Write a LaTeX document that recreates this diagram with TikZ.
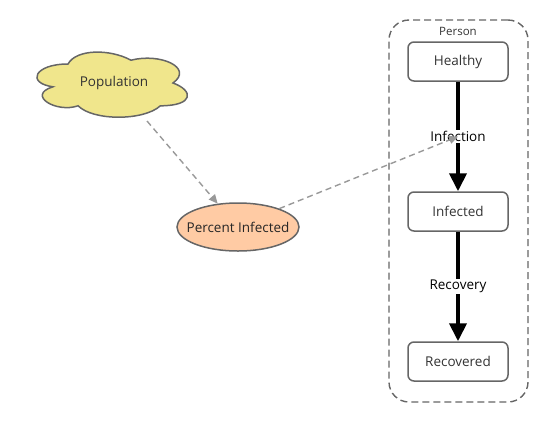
\documentclass[tikz,border=0pt]{standalone}
\usepackage{fontspec}
\setmainfont{Open Sans}
\usetikzlibrary{shapes.geometric,arrows.meta}
\definecolor{strokegray}{HTML}{666666}
\definecolor{khaki}{HTML}{F0E68C}
\definecolor{peach}{HTML}{FFCBA4}
\definecolor{dashgray}{HTML}{999999}
\tikzset{
  txt/.style={font=\fontsize{13.5}{15}\selectfont},
  statebox/.style={txt, draw=strokegray, line width=1.5pt, rounded corners=6pt, minimum width=100pt, minimum height=39pt, inner sep=0pt, text=black!80},
  flow/.style={line width=4pt, -{Triangle[length=18pt,width=17pt]}},
  link/.style={draw=dashgray, line width=1.4pt, dash pattern=on 6pt off 4pt, -{Triangle[length=9pt,width=8pt]}},
  flowlabel/.style={txt, fill=white, inner sep=1.5pt},
}
\begin{document}
\begin{tikzpicture}[x=1pt,y=-1pt]
\useasboundingbox (0,0) rectangle (557,424);
% container
\node[draw=strokegray, line width=1.4pt, dash pattern=on 7pt off 4pt, rounded corners=20pt, minimum width=139pt, minimum height=382pt, inner sep=0pt] (person) at (458.5,211) {};
\node[font=\fontsize{11.5}{12}\selectfont, text=black!80] (personlabel) at (458,31) {Person};
\node[statebox] (healthy) at (458,61.5) {Healthy};
\node[statebox] (infected) at (458,211.5) {Infected};
\node[statebox] (recovered) at (458,361.5) {Recovered};
\draw[flow] (healthy.south) -- (infected.north) node[pos=0.5, flowlabel] (infection) {Infection};
\draw[flow] (infected.south) -- (recovered.north) node[pos=0.5, flowlabel] (recovery) {Recovery};
% cloud (draw.io cloud outline)
\begin{scope}[shift={(26,45)}, x=168pt, y=-76pt]
\draw[draw=strokegray, line width=1.5pt, fill=khaki]
  (0.25,0.25) .. controls (0.05,0.25) and (0,0.5) .. (0.16,0.55)
  .. controls (0,0.66) and (0.18,0.9) .. (0.31,0.8)
  .. controls (0.4,1) and (0.7,1) .. (0.8,0.8)
  .. controls (1,0.8) and (1,0.6) .. (0.875,0.5)
  .. controls (1,0.3) and (0.8,0.1) .. (0.625,0.2)
  .. controls (0.5,0.05) and (0.3,0.05) .. (0.25,0.25) -- cycle;
\end{scope}
\node[txt, text=black!80, inner sep=0pt, minimum width=150pt, minimum height=60pt] (population) at (114,83) {Population};
\node[ellipse, draw=strokegray, line width=1.5pt, fill=peach, minimum width=122pt, minimum height=48pt, inner sep=0pt] (percent) at (238,227) {};
\node[txt, text=black!85] (percenttext) at (percent.center) {Percent Infected};
\coordinate (popout) at (147,121);
\draw[link] (popout) -- (percent.131);
\draw[link] (percent.24) -- (infection.center);
\end{tikzpicture}
\end{document}
